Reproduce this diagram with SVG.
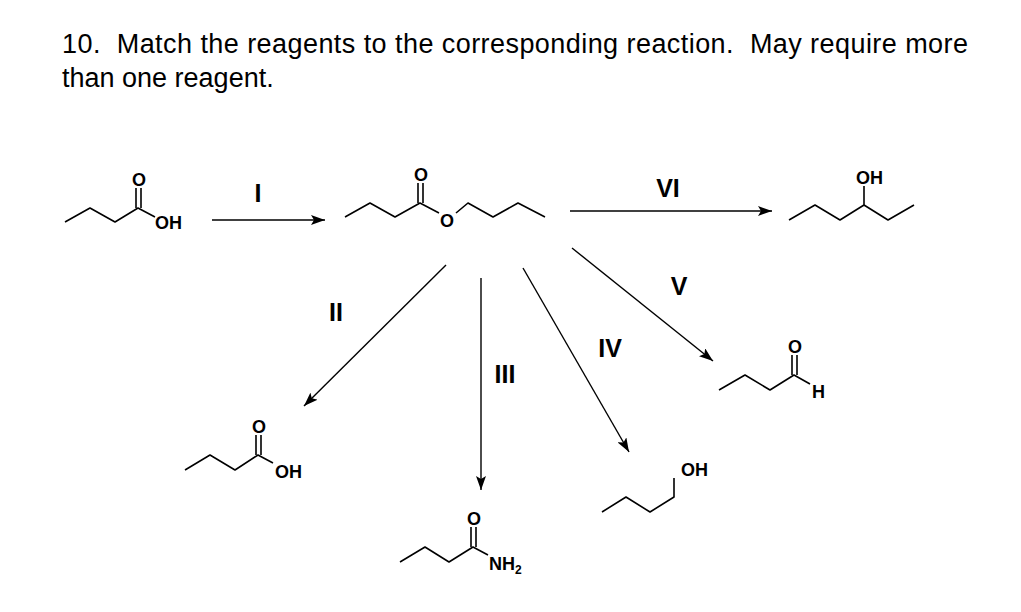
<svg xmlns="http://www.w3.org/2000/svg" width="1021" height="612" viewBox="0 0 1021 612">
<defs>
<marker id="ah" viewBox="0 0 14 10" refX="14" refY="5" markerWidth="14" markerHeight="10" markerUnits="userSpaceOnUse" orient="auto"><path d="M0,0 L14,5 L0,10 L3,5 Z" fill="#000"/></marker>
</defs>
<style>
.b{fill:none;stroke:#000;stroke-width:1.6;stroke-linejoin:round}
.a{stroke:#000;stroke-width:1.4;fill:none;marker-end:url(#ah)}
.t{font-family:"Liberation Sans",Arial,sans-serif;font-weight:bold;font-size:18px;fill:#000}
.l{font-family:"Liberation Sans",Arial,sans-serif;font-weight:bold;font-size:25px;fill:#000;text-anchor:middle}
.h{font-family:"Liberation Sans",Arial,sans-serif;font-size:27px;fill:#000}
</style>
<rect width="1021" height="612" fill="#fff"/>
<text class="h" x="62" y="53" xml:space="preserve" textLength="906" lengthAdjust="spacing">10.  Match the reagents to the corresponding reaction.  May require more</text>
<text class="h" x="62" y="87">than one reagent.</text>
<g id="acid1">
<path class="b" d="M65,222 L90,208 L115,222 L138,208 L155,217"/>
<path class="b" d="M136,208 V188 M141,208 V188"/>
<text class="t" x="132" y="186">O</text>
<text class="t" x="155" y="229">OH</text>
</g>
<g id="ester">
<path class="b" d="M345,217 L370,203 L395,217 L420,203 L439,213 M456,213 L468,203 L493,217 L518,203 L545,217"/>
<path class="b" d="M418,203 V183 M423,203 V183"/>
<text class="t" x="414" y="181">O</text>
<text class="t" x="440" y="227">O</text>
</g>
<g id="hexanol">
<path class="b" d="M789,220 L815,205 L840,220 L864,205 L888,220 L914,205 M864,205 V186"/>
<text class="t" x="856" y="184">OH</text>
</g>
<g id="butanal">
<path class="b" d="M719,390 L745,375 L770,390 L794,375 L810,384"/>
<path class="b" d="M792,375 V355 M797,375 V355"/>
<text class="t" x="788" y="353">O</text>
<text class="t" x="812" y="398">H</text>
</g>
<g id="acid2">
<path class="b" d="M185,470 L210,455 L235,470 L258,455 L273,463"/>
<path class="b" d="M256,455 V435 M261,455 V435"/>
<text class="t" x="252" y="433">O</text>
<text class="t" x="275" y="478">OH</text>
</g>
<g id="amide">
<path class="b" d="M400,562 L425,547 L449,562 L473,547 L488,555"/>
<path class="b" d="M471,547 V527 M476,547 V527"/>
<text class="t" x="467" y="525">O</text>
<text class="t" x="489" y="570">NH<tspan font-size="12" dy="4">2</tspan></text>
</g>
<g id="butanol">
<path class="b" d="M602,512 L626,497 L650,512 L674,497 V478"/>
<text class="t" x="681" y="476">OH</text>
</g>
<g id="connectors">
<line class="a" x1="212" y1="220" x2="325" y2="220"/>
<line class="a" x1="570" y1="211" x2="772" y2="211"/>
<line class="a" x1="572" y1="248" x2="713" y2="361"/>
<line class="a" x1="523" y1="268" x2="629" y2="452"/>
<line class="a" x1="481" y1="278" x2="481" y2="490"/>
<line class="a" x1="446" y1="265" x2="304" y2="406"/>
</g>
<g id="labels">
<text class="l" x="258" y="202">I</text>
<text class="l" x="668" y="197">VI</text>
<text class="l" x="679" y="295">V</text>
<text class="l" x="610" y="357">IV</text>
<text class="l" x="505" y="383">III</text>
<text class="l" x="336" y="321">II</text>
</g>
</svg>
